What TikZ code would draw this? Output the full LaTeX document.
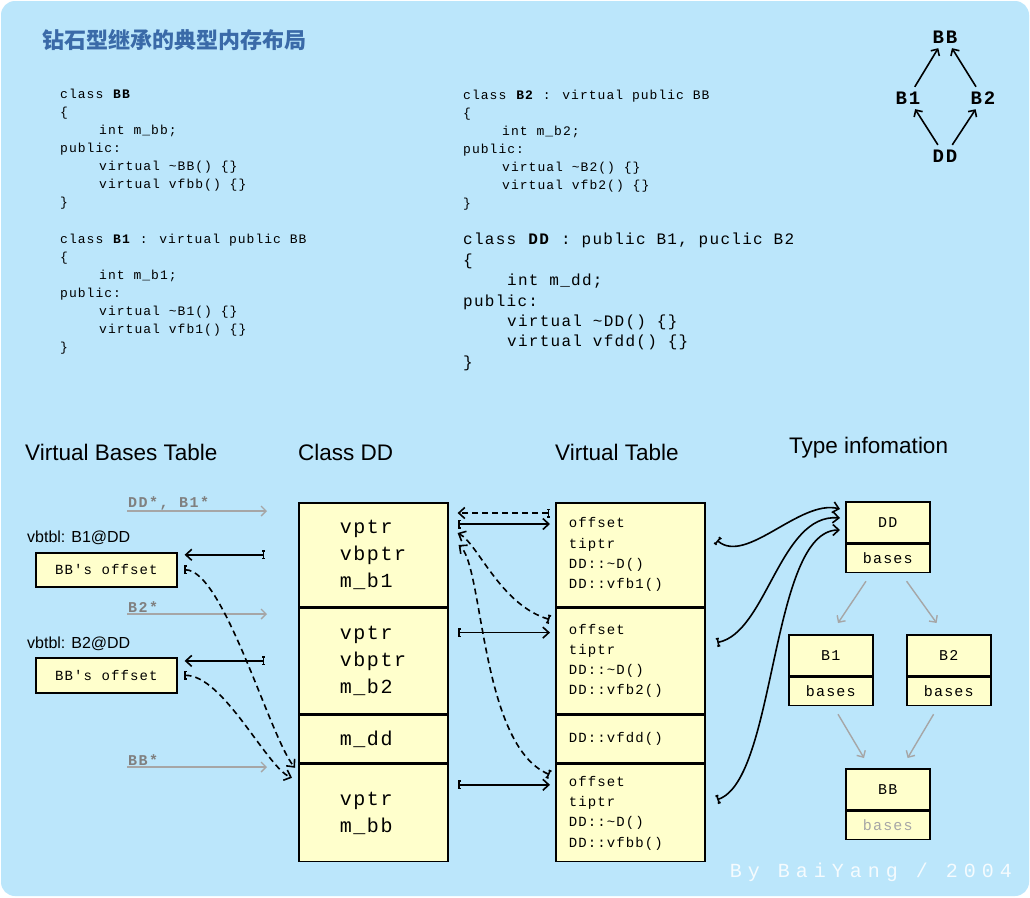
\documentclass[tikz,border=0pt]{standalone}
\usepackage{fontspec}
\setmainfont{Liberation Sans}
\newfontfamily\cjk{Noto Sans CJK SC}
\newfontfamily\mono[LetterSpace=8]{Liberation Mono}
\newfontfamily\monow[LetterSpace=30]{Liberation Mono}
\newfontfamily\monob[LetterSpace=10]{Liberation Mono}
\usetikzlibrary{arrows.meta,positioning}
\definecolor{bgblue}{HTML}{BBE6FB}
\definecolor{boxyel}{HTML}{FFFFCC}
\definecolor{titleblue}{HTML}{3A6AA8}
\tikzset{
  cell/.style={draw,line width=1.6pt,fill=boxyel,minimum width=149pt,inner sep=0pt},
  tcell/.style={draw,line width=1.6pt,fill=boxyel,minimum width=84pt,inner sep=0pt},
  code/.style={anchor=north west,align=left,inner sep=0pt,font=\mono\fontsize{13}{18}\selectfont},
  head/.style={anchor=west,inner sep=0pt,font=\fontsize{22.5}{24}\selectfont},
  ptr/.style={gray!70,line width=1.4pt,-{Straight Barb[length=5pt,width=10pt]}},
  plab/.style={anchor=south west,inner sep=1pt,gray,font=\monob\bfseries\fontsize{15}{16}\selectfont},
  link/.style={line width=1.6pt,{Tee Barb[width=9pt,length=3pt]}-{Straight Barb[length=6pt,width=11pt]}},
  dlink/.style={link,dashed,dash pattern=on 6pt off 4pt},
  tip/.style={line width=1.6pt,-{Straight Barb[length=5pt,width=10pt]},shorten >=2pt,shorten <=2pt}
}
\begin{document}
\begin{tikzpicture}[x=1pt,y=-1pt]
\useasboundingbox (0,0) rectangle (1030,897);
\fill[white] (0,0) rectangle (1030,897);
\fill[bgblue,rounded corners=14pt] (1,1) rectangle (1029,896);
\node[anchor=west,inner sep=0pt,titleblue,font=\cjk\bfseries\fontsize{22}{24}\selectfont] (title) at (42,40) {钻石型继承的典型内存布局};
% source code
\node[code] (codebb) at (60,89) {class \textbf{BB}\\\{\\\hspace*{39pt}int m\_bb;\\public:\\\hspace*{39pt}virtual \textasciitilde BB() \{\}\\\hspace*{39pt}virtual vfbb() \{\}\\\}};
\node[code] (codeb1) at (60,234) {class \textbf{B1} : virtual public BB\\\{\\\hspace*{39pt}int m\_b1;\\public:\\\hspace*{39pt}virtual \textasciitilde B1() \{\}\\\hspace*{39pt}virtual vfb1() \{\}\\\}};
\node[code] (codeb2) at (463,90) {class \textbf{B2} : virtual public BB\\\{\\\hspace*{39pt}int m\_b2;\\public:\\\hspace*{39pt}virtual \textasciitilde B2() \{\}\\\hspace*{39pt}virtual vfb2() \{\}\\\}};
\node[code,font=\mono\fontsize{16}{20.4}\selectfont] (codedd) at (463,233) {class \textbf{DD} : public B1, puclic B2\\\{\\\hspace*{44pt}int m\_dd;\\public:\\\hspace*{44pt}virtual \textasciitilde DD() \{\}\\\hspace*{44pt}virtual vfdd() \{\}\\\}};
% diamond
\begin{scope}[every node/.style={font=\monob\bfseries\fontsize{19}{20}\selectfont,inner sep=3pt}]
\node (dbb) at (945,37) {BB};
\node (db1) at (908,98) {B1};
\node (db2) at (983,98) {B2};
\node (ddd) at (945,156) {DD};
\end{scope}
\draw[tip] (ddd) -- (db1);
\draw[tip] (ddd) -- (db2);
\draw[tip] (db1) -- (dbb);
\draw[tip] (db2) -- (dbb);
% headers
\node[head] (hvbt) at (25,452) {Virtual Bases Table};
\node[head] (hcls) at (298,452) {Class DD};
\node[head] (hvt) at (555,452) {Virtual Table};
\node[head] (hti) at (789,448) {Type infomation};
% class DD layout
\begin{scope}[every node/.append style={font=\mono\fontsize{20}{27}\selectfont,align=left,text width=67pt}]
\node[cell,minimum height=104pt,anchor=north west] (sb1) at (298,502) {vptr\\vbptr\\m\_b1};
\node[cell,minimum height=105pt,anchor=north] (sb2) at (sb1.south) {vptr\\vbptr\\m\_b2};
\node[cell,minimum height=48pt,anchor=north] (sdd) at (sb2.south) {m\_dd};
\node[cell,minimum height=97pt,anchor=north] (sbb) at (sdd.south) {\raisebox{12pt}{\parbox{67pt}{vptr\\m\_bb}}};
\end{scope}
% virtual table
\begin{scope}[every node/.append style={font=\mono\fontsize{14}{20.3}\selectfont,align=left,text width=123pt}]
\node[cell,minimum height=104pt,anchor=north west] (vt1) at (555,502) {offset\\tiptr\\DD::\textasciitilde D()\\DD::vfb1()};
\node[cell,minimum height=105pt,anchor=north] (vt2) at (vt1.south) {offset\\tiptr\\DD::\textasciitilde D()\\DD::vfb2()};
\node[cell,minimum height=48pt,anchor=north] (vtdd) at (vt2.south) {DD::vfdd()};
\node[cell,minimum height=97pt,anchor=north] (vtbb) at (vtdd.south) {offset\\tiptr\\DD::\textasciitilde D()\\DD::vfbb()};
\end{scope}
% type information
\begin{scope}[every node/.append style={font=\mono\fontsize{15}{16}\selectfont}]
\node[tcell,minimum height=41pt,anchor=north west] (tdd) at (845,501) {DD};
\node[tcell,minimum height=28pt,anchor=north] (tddb) at (tdd.south) {bases};
\node[tcell,minimum height=41pt,anchor=north west] (tb1) at (788,634) {B1};
\node[tcell,minimum height=28pt,anchor=north] (tb1b) at (tb1.south) {bases};
\node[tcell,minimum height=41pt,anchor=north west] (tb2) at (906,634) {B2};
\node[tcell,minimum height=28pt,anchor=north] (tb2b) at (tb2.south) {bases};
\node[tcell,minimum height=41pt,anchor=north west] (tbb) at (845,768) {BB};
\node[tcell,minimum height=28pt,anchor=north,text=gray!70] (tbbb) at (tbb.south) {bases};
\end{scope}
\draw[ptr] ([shift={(21,8)}]tddb.south west) -- ([shift={(50,-11)}]tb1.north west);
\draw[ptr] ([shift={(-24,8)}]tddb.south east) -- ([shift={(-55,-11)}]tb2.north east);
\draw[ptr] ([shift={(50,8)}]tb1b.south west) -- ([shift={(19,-10)}]tbb.north west);
\draw[ptr] ([shift={(-58,8)}]tb2b.south east) -- ([shift={(-23,-10)}]tbb.north east);
% virtual bases tables
\node[anchor=south west,inner sep=0pt,font=\fontsize{16}{16}\selectfont] (lb1) at (27,545) {vbtbl: B1@DD};
\node[draw,line width=1.6pt,fill=boxyel,anchor=north west,minimum width=141pt,minimum height=34pt,font=\mono\fontsize{14}{14}\selectfont] (vb1) at (35,552) {BB's offset};
\node[anchor=south west,inner sep=0pt,font=\fontsize{16}{16}\selectfont] (lb2) at (27,651) {vbtbl: B2@DD};
\node[draw,line width=1.6pt,fill=boxyel,anchor=north west,minimum width=141pt,minimum height=35pt,font=\mono\fontsize{14}{14}\selectfont] (vb2) at (35,657) {BB's offset};
% pointer labels
\coordinate (pa) at (127,511); \coordinate (pb) at (127,614); \coordinate (pc) at (127,767);
\node[plab] (la) at (pa) {DD*, B1*};
\node[plab] (lb) at (pb) {B2*};
\node[plab] (lc) at (pc) {BB*};
\draw[ptr] (pa) -- ([xshift=-31]pa -| sb1.west);
\draw[ptr] (pb) -- ([xshift=-31]pb -| sb1.west);
\draw[ptr] (pc) -- ([xshift=-31]pc -| sb1.west);
% links
\coordinate (s1) at ([xshift=-33]sb1.west);
\coordinate (s2) at ([xshift=-33]sb2.west);
\draw[link] (s1) -- ([xshift=7]vb1.east |- s1);
\draw[link] (s2) -- ([xshift=7]vb2.east |- s2);
\draw[dlink] ([xshift=6]vb1.east) .. controls +(40,0) and +(-25,-30) .. ([shift={(-3,4)}]sbb.north west);
\draw[dlink] ([xshift=6]vb2.east) .. controls +(40,0) and +(-25,-10) .. ([shift={(-6,14)}]sbb.north west);
\coordinate (m1) at ([shift={(9,11)}]sb1.north east);
\coordinate (m2) at ([shift={(9,22)}]sb1.north east);
\draw[dlink] ([shift={(-5,11)}]vt1.north west) -- (m1);
\draw[link] (m2) -- ([shift={(-5,22)}]vt1.north west);
\draw[dlink] ([shift={(-5,12)}]vt2.north west) .. controls +(-50,-15) and +(20,10) .. ([shift={(9,31)}]sb1.north east);
\draw[dlink] ([shift={(-5,11)}]vtbb.north west) .. controls +(-70,-30) and +(25,20) .. ([shift={(10,43)}]sb1.north east);
\draw[link] ([shift={(9,25)}]sb2.north east) -- ([shift={(-5,25)}]vt2.north west);
\draw[link] ([shift={(9,21)}]sbb.north east) -- ([shift={(-5,21)}]vtbb.north west);
\draw[link] ([shift={(11,38)}]vt1.north east) .. controls +(30,25) and +(-40,-10) .. ([shift={(-5,8)}]tdd.north west);
\draw[link] ([shift={(11,35)}]vt2.north east) .. controls +(50,-10) and +(-60,-5) .. ([shift={(-5,17)}]tdd.north west);
\draw[link] ([shift={(11,36)}]vtbb.north east) .. controls +(60,-20) and +(-70,0) .. ([shift={(-5,29)}]tdd.north west);
% signature
\node[anchor=east,inner sep=0pt,white!85!bgblue,font=\monow\fontsize{20}{20}\selectfont] (sig) at (1012,872) {By BaiYang / 2004};
\end{tikzpicture}
\end{document}
